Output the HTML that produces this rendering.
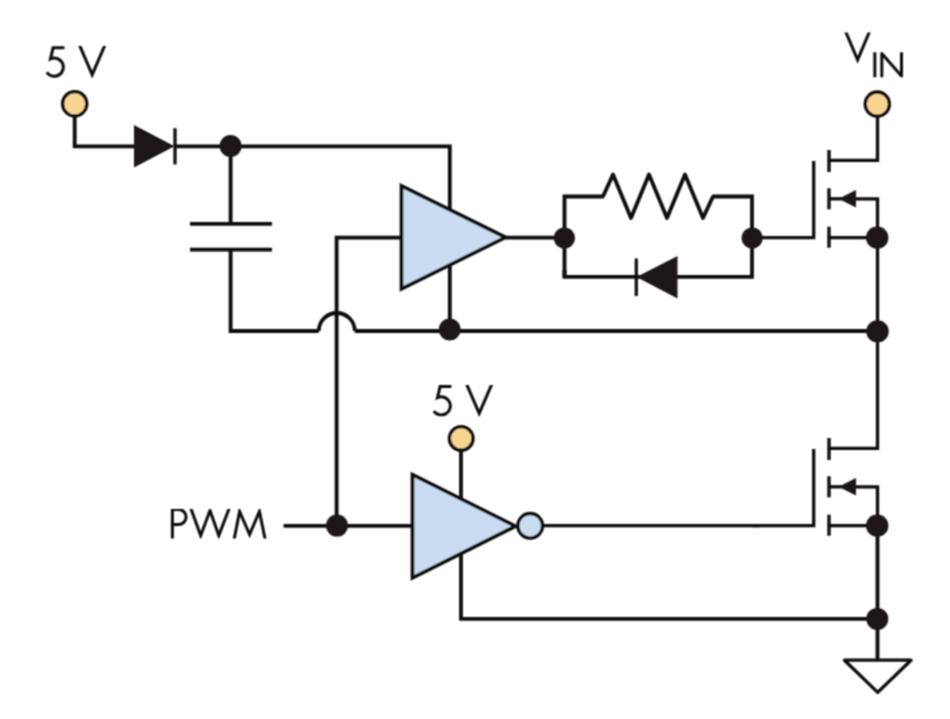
<!DOCTYPE html>
<html><head><meta charset="utf-8">
<style>
html,body{margin:0;padding:0;background:#fff;}
body{width:950px;height:719px;overflow:hidden;position:relative;}
svg{position:absolute;left:0;top:0;}
</style></head><body>
<svg width="950" height="719" viewBox="0 0 950 719">
<defs>
  <filter id="bl" x="0" y="0" width="950" height="719" filterUnits="userSpaceOnUse"><feConvolveMatrix order="3" kernelMatrix="1 2 1 2 4 2 1 2 1" divisor="16" edgeMode="duplicate"/></filter>
  <clipPath id="c5v"><rect x="30" y="46.2" width="90" height="31.5"/></clipPath>
  <clipPath id="cvin"><rect x="835" y="32.4" width="36" height="40"/></clipPath>
  <clipPath id="cin"><rect x="871" y="52.3" width="40" height="24.9"/></clipPath>
  <clipPath id="cpwm"><rect x="160" y="509" width="115" height="29.6"/></clipPath>
</defs>
<rect width="950" height="719" fill="#fff"/>
<g filter="url(#bl)">
<g fill="none" stroke="#0a0a0a" stroke-width="3.8" stroke-linejoin="miter" stroke-linecap="butt">
  <!-- top-left 5V -->
  <polyline points="74.7,116 74.7,146.3 140,146.3"/>
  <polyline points="175,146.3 449.8,146.3 449.8,212"/>
  <!-- cap -->
  <line x1="230.6" y1="146" x2="230.6" y2="223.8"/>
  <line x1="190" y1="223.8" x2="272" y2="223.8"/>
  <line x1="190" y1="249.6" x2="272" y2="249.6"/>
  <polyline points="230.6,249.6 230.6,331 318.8,331"/>
  <path d="M318.8,331 A18,18 0 0 1 354.8,331"/>
  <line x1="354.8" y1="331" x2="878" y2="331"/>
  <line x1="449.8" y1="263" x2="449.8" y2="331"/>
  <!-- comparator input -->
  <polyline points="336.6,525.8 336.6,237.6 401,237.6"/>
  <line x1="505" y1="237.6" x2="564" y2="237.6"/>
  <!-- RD network -->
  <polyline points="564.5,276.8 564.5,196.5 604,196.5"/>
  <polyline stroke-linejoin="round" points="603,196.5 613,174.5 631,218 649,174.5 667,218 685,174.5 703,218 713,196.5"/>
  <polyline points="712,196.5 752,196.5 752,276.8 564.5,276.8 564.5,270"/>
    <line x1="636.3" y1="258.5" x2="636.3" y2="296" stroke-width="3.2"/>
  <!-- upper mosfet -->
  <g id="mos" stroke-width="3.3">
  <polyline points="813.7,160.9 813.7,237.7 752,237.7"/>
  <line x1="829" y1="150" x2="829" y2="172"/>
  <line x1="829" y1="188.3" x2="829" y2="209.3"/>
  <line x1="829" y1="226.7" x2="829" y2="247.7"/>
  <polyline points="850,198.8 877.5,198.8 877.5,237.7"/>
  <line x1="829" y1="198.8" x2="842" y2="198.8"/>
  <line x1="829" y1="237.7" x2="877.5" y2="237.7"/>
  </g>
  <polyline stroke-width="3.3" points="829,160.4 877.5,160.4 877.5,117"/>
  <polyline stroke-width="3.3" points="829,448.4 877.5,448.4 877.5,237.7"/>
  <!-- lower mosfet -->
  <use href="#mos" transform="translate(0,288)"/>
  <line x1="877.5" y1="525.7" x2="877.5" y2="660.5"/>
  <line stroke-width="3.3" x1="542" y1="525.7" x2="760" y2="525.7"/>
  <!-- inverter -->
  <line x1="461" y1="450" x2="461" y2="499"/>
  <polyline points="461,553 461,618.8 878,618.8"/>
  <line x1="283.6" y1="525.8" x2="412" y2="525.8"/>
  <!-- ground -->
  <polygon stroke-linejoin="round" stroke-width="3.3" points="844.5,660.2 911,660.2 877.7,692.4"/>
</g>
<!-- triangles -->
<polygon points="401.5,186 401.5,288.8 505.5,237.3" fill="#C9DCF1" stroke="#0a0a0a" stroke-width="3.6"/>
<polygon points="412.5,474.6 412.5,577.8 515.5,526.2" fill="#C9DCF1" stroke="#0a0a0a" stroke-width="3.6"/>
<circle cx="530.2" cy="525.8" r="12.3" fill="#C9DCF1" stroke="#0a0a0a" stroke-width="3.3"/>
<!-- terminals -->
<circle cx="74.7" cy="103.8" r="12.1" fill="#FAD592" stroke="#0a0a0a" stroke-width="3.3"/>
<circle cx="877.3" cy="104.1" r="12.1" fill="#FAD592" stroke="#0a0a0a" stroke-width="3.3"/>
<circle cx="461.2" cy="438.4" r="11.8" fill="#FAD592" stroke="#0a0a0a" stroke-width="3.3"/>
<!-- diodes -->
<g fill="#1a1819">
<polygon points="134,125 134,167.5 174.5,146.3"/>
<polygon points="677.5,256 677.5,298.5 636.5,277"/>
<polygon points="838.5,198.8 856,190 856,207.6"/>
<polygon points="838.5,486.8 856,478 856,495.6"/>
</g>
<line x1="175" y1="128.2" x2="175" y2="164.4" stroke="#0a0a0a" stroke-width="3.2"/>
<!-- dots -->
<g fill="#1a1819">
<circle cx="230.6" cy="146" r="11"/>
<circle cx="449.7" cy="329.5" r="10.9"/>
<circle cx="564.4" cy="238" r="10.6"/>
<circle cx="752.2" cy="238" r="10.6"/>
<circle cx="877.2" cy="237.7" r="11.2"/>
<circle cx="877.5" cy="331.4" r="11.2"/>
<circle cx="877.2" cy="525.7" r="11.2"/>
<circle cx="877.3" cy="618.9" r="11"/>
<circle cx="337" cy="525.6" r="11"/>
</g>
<!-- glyphs -->
<g fill="none" stroke="#0a0a0a" stroke-width="3" stroke-linejoin="miter" stroke-linecap="butt">
  <g id="g5v" clip-path="url(#c5v)">
    <path d="M64.4,47.8 H53.1 L50.5,58.8 A9.1,9.1 0 1 1 46.8,72.3"/>
    <polyline points="78.8,43.5 92.2,74.6 105.6,43.5"/>
  </g>
  <use href="#g5v" transform="translate(387,338.8)"/>
  <g clip-path="url(#cvin)">
    <polyline points="845,30 857.6,59.8 870.2,30"/>
  </g>
  <g clip-path="url(#cin)">
    <line x1="874.8" y1="50" x2="874.8" y2="80"/>
    <polyline points="881.8,80 881.8,53.5 901.5,76 901.5,50"/>
  </g>
  <g clip-path="url(#cpwm)">
    <path d="M172.4,540 V509.4 H178.5 A7.6,7.6 0 0 1 178.5,524.6 H172.4"/>
    <polyline points="189.6,505 200.7,535.5 210,510.6 218.8,535.5 230.5,505"/>
    <polyline points="234,540 239.6,511.5 249.6,534.5 259.4,511.5 265.3,540"/>
  </g>
</g>
</g>
</svg>
</body></html>
